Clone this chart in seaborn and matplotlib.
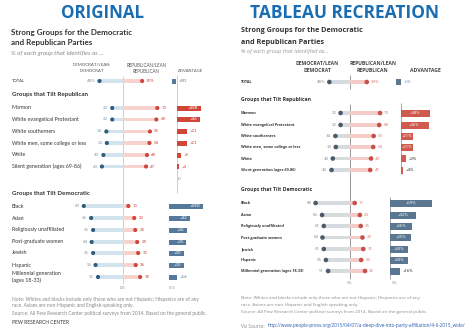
import matplotlib
matplotlib.use("Agg")
import matplotlib.pyplot as plt
import seaborn as sns
import pandas as pd

# ---------------- data ----------------
total_label = "TOTAL"
total_dem = 48
total_rep = 39
total_adv = 9

rep_groups = ["Mormon", "White evangelical Protestant", "White southerners",
              "White men, some college or less", "White",
              "Silent generation (ages 69-86)"]
rep_dem = [22, 22, 34, 33, 40, 43]
rep_rep = [70, 68, 55, 54, 49, 47]
rep_adv = [48, 46, 21, 21, 9, 4]

dem_groups = ["Black", "Asian", "Religiously unaffiliated", "Post-graduate women",
              "Jewish", "Hispanic", "Millennial generation (ages 18-33)"]
dem_dem = [80, 65, 61, 64, 61, 56, 51]
dem_rep = [11, 23, 25, 29, 31, 26, 35]
dem_adv = [69, 42, 36, 35, 30, 30, 16]

# ---------------- setup ----------------
W, H = 474, 331
sns.set_theme(style="white")
plt.rcParams["font.family"] = ["Lato", "DejaVu Sans"]

fig = plt.figure(figsize=(W / 100, H / 100), dpi=100)
fig.patch.set_facecolor("white")
RND = fig.canvas.get_renderer()


def fitsize(s, target, **kw):
    t = fig.text(0, 0, s, fontsize=10, **kw)
    w = t.get_window_extent(renderer=RND).width
    t.remove()
    return 10 * target / w


def T(x, y, s, size=4.0, fit=None, **kw):
    kw.setdefault("va", "center")
    if fit is not None:
        size = fitsize(fit[0], fit[1], **{k: v for k, v in kw.items() if k not in ("va", "ha", "color", "linespacing")})
    return fig.text(x / W, 1 - y / H, s, fontsize=size, **kw)


def px_axes(x0, x1, zero_px, scale):
    ax = fig.add_axes([x0 / W, 0, (x1 - x0) / W, 1])
    ax.set_xlim((x0 - zero_px) / scale, (x1 - zero_px) / scale)
    ax.set_ylim(H, 0)
    ax.axis("off")
    ax.patch.set_alpha(0)
    return ax


def dumbbell(ax, ys, dem, rep, dem_lab, rep_lab, c):
    xl = ax.get_xlim()
    neg = [-d for d in dem]
    ax.barh(ys, neg, height=c["bh"], color=c["dem_bar"], zorder=1, linewidth=0)
    ax.barh(ys, rep, height=c["bh"], color=c["rep_bar"], zorder=1, linewidth=0)
    df = pd.DataFrame({"x": neg + list(rep), "y": list(ys) + list(ys),
                       "side": ["D"] * len(ys) + ["R"] * len(ys)})
    sns.scatterplot(data=df, x="x", y="y", hue="side", ax=ax, s=c["s"],
                    palette={"D": c["dem_dot"], "R": c["rep_dot"]},
                    edgecolor="none", legend=False, zorder=3)
    for y, d, r, dl, rl in zip(ys, neg, rep, dem_lab, rep_lab):
        ax.annotate(dl, (d, y), xytext=(-3, 0), textcoords="offset points",
                    ha="right", va="center", fontsize=c["fs"], color=c["dem_txt"],
                    family=c["font"])
        ax.annotate(rl, (r, y), xytext=(3, 0), textcoords="offset points",
                    ha="left", va="center", fontsize=c["fs"], color=c["rep_txt"],
                    family=c["font"])
    ax.set_xlim(xl)
    ax.set_ylim(H, 0)
    ax.axis("off")


def advantage(ax, ys, vals, labels, color, bh, inside_min, in_mode, out_color, fs, font):
    ax.barh(ys, vals, height=bh, color=color, linewidth=0, zorder=2)
    for y, v, l in zip(ys, vals, labels):
        if v >= inside_min:
            if in_mode == "right":
                ax.annotate(l, (v, y), xytext=(-1.5, 0), textcoords="offset points",
                            ha="right", va="center", fontsize=fs, color="white", family=font)
            else:
                ax.text(v / 2, y, l, ha="center", va="center", fontsize=fs,
                        color="white", family=font)
        else:
            ax.annotate(l, (v, y), xytext=(2, 0), textcoords="offset points",
                        ha="left", va="center", fontsize=fs, color=out_color, family=font)
    ax.set_ylim(H, 0)


# ================= LEFT: ORIGINAL =================
FO = "Lato"
T(102.5, 13, "ORIGINAL", fit=("ORIGINAL", 83), color="#1a6db3", fontweight="bold",
  family="Open Sans", ha="center")
hs = fitsize("Strong Groups for the Democratic", 122, fontweight="bold", family=FO)
T(11, 32, "Strong Groups for the Democratic", size=hs, fontweight="bold", color="#333333", family=FO)
T(11, 42.5, "and Republican Parties", size=hs, fontweight="bold", color="#333333", family=FO)
T(11, 53, "% of each group that identifies as ...", fit=("% of each group that identifies as ...", 92),
  style="italic", color="#888888", family=FO)
T(91.5, 68, "DEMOCRAT/LEAN\nDEMOCRAT", fit=("DEMOCRAT/LEAN", 37), color="#555555", ha="center",
  family=FO, linespacing=1.4)
T(146.5, 68, "REPUBLICAN/LEAN\nREPUBLICAN", fit=("REPUBLICAN/LEAN", 41), color="#555555", ha="center",
  family=FO, linespacing=1.4)
T(190.5, 71, "ADVANTAGE", fit=("ADVANTAGE", 25), color="#555555", ha="center", family=FO)

o_total_y = [81]
o_rep_y = [108, 119.5, 131.5, 143, 155, 166.5]
o_dem_y = [206, 218, 230, 242, 253, 265, 277]

rs = fitsize("White men, some college or less", 74, family=FO)
gs = fitsize("Groups that Tilt Republican", 77, fontweight="bold", family=FO)
T(12, o_total_y[0], total_label, fit=(total_label, 13), color="#333333", family=FO)
T(12, 94, "Groups that Tilt Republican", size=gs, fontweight="bold", color="#333333", family=FO)
T(12, 193, "Groups that Tilt Democratic", size=gs, fontweight="bold", color="#333333", family=FO)
for y, g in zip(o_rep_y, rep_groups):
    T(12, y, g, size=rs, color="#333333", family=FO)
for y, g in zip(o_dem_y, dem_groups):
    if g.startswith("Millennial"):
        g = "Millennial generation\n(ages 18-33)"
    T(12, y, g, size=rs, color="#333333", family=FO, linespacing=1.15)

co = dict(bh=3.2, s=9, dem_bar="#d3e3ee", rep_bar="#f8d3ce", dem_dot="#2e5d7e",
          rep_dot="#d2463a", dem_txt="#8a9aa8", rep_txt="#d2463a", fs=3.2, font=FO)
ax_od = px_axes(55, 175, 123, 0.49)
ax_od.vlines(0, 76, 284, color="#c8c8c8", linewidth=0.6, zorder=0)
dumbbell(ax_od, o_total_y, [total_dem], [total_rep], [f"{total_dem}%"], [f"{total_rep}%"], co)
dumbbell(ax_od, o_rep_y, rep_dem, rep_rep, [str(v) for v in rep_dem], [str(v) for v in rep_rep], co)
dumbbell(ax_od, o_dem_y, dem_dem, dem_rep, [str(v) for v in dem_dem], [str(v) for v in dem_rep], co)
ax_od.text(0, 288, "0%", ha="center", va="center", fontsize=3.0, color="#888888", family=FO)

o_scale = 0.49
ax_ot = px_axes(165, 230, 172, o_scale)
advantage(ax_ot, o_total_y, [total_adv], [f"+{total_adv}D"], "#56789a", 5, 99, "right",
          "#56789a", 3.2, FO)
ax_or = px_axes(165, 230, 177, o_scale)
ax_or.vlines(0, 75, 193, color="#c8c8c8", linewidth=0.6, zorder=0)
advantage(ax_or, o_rep_y, rep_adv, [f"+{rep_adv[0]}R"] + [f"+{v}" for v in rep_adv[1:]],
          "#d2463a", 5, 40, "right", "#d2463a", 3.2, FO)
ax_or.text(0, 179, "+0", ha="left", va="center", fontsize=2.8, color="#888888", family=FO)
ax_odv = px_axes(160, 230, 169, o_scale)
advantage(ax_odv, o_dem_y, dem_adv, [f"+{dem_adv[0]}D"] + [f"+{v}" for v in dem_adv[1:]],
          "#56789a", 5, 25, "right", "#56789a", 3.2, FO)
ax_odv.text(0, 288, "0 0", ha="left", va="center", fontsize=2.8, color="#888888", family=FO)

o_notes = ["Note: Whites and blacks include only those who are not Hispanic; Hispanics are of any",
           "race. Asians are non-Hispanic and English-speaking only.",
           "Source: All Pew Research Center political surveys from 2014. Based on the general public."]
ns = fitsize(o_notes[0], 186, family=FO)
for i, line in enumerate(o_notes):
    T(12, 299 + 7 * i, line, size=ns, color="#888888", family=FO)
T(12, 323, "PEW RESEARCH CENTER", fit=("PEW RESEARCH CENTER", 56), color="#333333", family=FO)

# ================= RIGHT: TABLEAU RECREATION =================
FT = "Open Sans"
T(344.5, 13, "TABLEAU RECREATION", fit=("TABLEAU RECREATION", 189), color="#1a6db3",
  fontweight="bold", family="Open Sans", ha="center")
hs2 = fitsize("Strong Groups for the Democratic", 121, fontweight="bold", family=FT)
T(241, 31, "Strong Groups for the Democratic", size=hs2, fontweight="bold", color="#333333", family=FT)
T(241, 42, "and Republican Parties", size=hs2, fontweight="bold", color="#333333", family=FT)
T(241, 52, "% of each group that identified as...", fit=("% of each group that identified as...", 89),
  style="italic", color="#999999", family=FT)
T(317.5, 67, "DEMOCRAT/LEAN\nDEMOCRAT", fit=("DEMOCRAT/LEAN", 43), color="#444444", ha="center",
  family=FT, fontweight="bold", linespacing=1.6)
T(372.5, 67, "REPUBLICAN/LEAN\nREPUBLICAN", fit=("REPUBLICAN/LEAN", 47), color="#444444", ha="center",
  family=FT, fontweight="bold", linespacing=1.6)
T(425.5, 71, "ADVANTAGE", fit=("ADVANTAGE", 31), color="#444444", ha="center", family=FT,
  fontweight="bold")

t_total_y = [82]
t_rep_y = [113, 125, 136, 147, 158.5, 170]
t_dem_y = [203, 215, 226, 237.5, 249, 260, 271]

rs2 = fitsize("Millennial generation (ages 18-33)", 64, fontweight="bold", family=FT)
gs2 = fitsize("Groups that Tilt Republican", 70, fontweight="bold", family=FT)
T(241, t_total_y[0], total_label, size=rs2, color="#333333", family=FT, fontweight="bold")
T(241, 99, "Groups that Tilt Republican", size=gs2, fontweight="bold", color="#333333", family=FT)
T(241, 189, "Groups that Tilt Democratic", size=gs2, fontweight="bold", color="#333333", family=FT)
for y, g in zip(t_rep_y, rep_groups):
    T(241, y, g, size=rs2, color="#333333", family=FT, fontweight="bold")
for y, g in zip(t_dem_y, dem_groups):
    T(241, y, g, size=rs2, color="#333333", family=FT, fontweight="bold")

ct = dict(bh=3.6, s=11, dem_bar="#d6dbe0", rep_bar="#f5cbc7", dem_dot="#4b5b6b",
          rep_dot="#c8504a", dem_txt="#888888", rep_txt="#d6766c", fs=3.2, font=FT)
ax_td = px_axes(290, 395, 350, 0.43)
ax_td.vlines(0, 75, 89, color="#888888", linewidth=0.6, zorder=0)
ax_td.vlines(0, 104, 279, color="#888888", linewidth=0.6, zorder=0)
dumbbell(ax_td, t_total_y, [total_dem], [total_rep], [f"{total_dem}%"], [f"{total_rep}%"], ct)
dumbbell(ax_td, t_rep_y, rep_dem, rep_rep, [str(v) for v in rep_dem], [str(v) for v in rep_rep], ct)
dumbbell(ax_td, t_dem_y, dem_dem, dem_rep, [str(v) for v in dem_dem], [str(v) for v in dem_rep], ct)
ax_td.text(0, 283, "0%", ha="center", va="center", fontsize=3.0, color="#999999", family=FT)

t_scale = 0.61
ax_tt = px_axes(385, 470, 396, t_scale)
advantage(ax_tt, t_total_y, [total_adv], [f"+{total_adv}D"], "#5a7690", 6.5, 99, "center",
          "#7f93b0", 3.1, FT)
ax_tr = px_axes(385, 470, 400.5, t_scale)
ax_tr.vlines(0, 103, 174, color="#999999", linewidth=0.6, zorder=0)
advantage(ax_tr, t_rep_y, rep_adv, [f"+{v}%" for v in rep_adv],
          "#cf5a4d", 7, 20, "center", "#222222", 3.1, FT)
ax_tdv = px_axes(380, 470, 390, t_scale)
ax_tdv.vlines(0, 197, 279, color="#999999", linewidth=0.6, zorder=0)
advantage(ax_tdv, t_dem_y, dem_adv, [f"+{v}%" for v in dem_adv],
          "#5a7690", 7, 25, "center", "#222222", 3.1, FT)
ax_tdv.text(8, 283, "0%", ha="center", va="center", fontsize=3.0, color="#999999", family=FT)

t_notes = ["Note: Whites and blacks include only those who are not Hispanic; Hispanics are of any",
           "race. Asians are non-Hispanic and English speaking only.",
           "Source: All Pew Research Center political surveys from 2014. Based on the general public."]
ns2 = fitsize(t_notes[0], 179, family=FT)
for i, line in enumerate(t_notes):
    T(241, 298 + 7 * i, line, size=ns2, color="#888888", family=FT)

url = "http://www.people-press.org/2015/04/07/a-deep-dive-into-party-affiliation/4-6-2015_wide/"
us = fitsize("Viz Source: " + url, 223, family=FT)
src = T(241, 326, "Viz Source:", size=us, color="#888888", family=FT)
bb = src.get_window_extent(renderer=RND)
T(bb.x1 + 2.5, 326, url, size=us, color="#2a5db0", family=FT)

fig.savefig("out.png", dpi=100, facecolor="white")
